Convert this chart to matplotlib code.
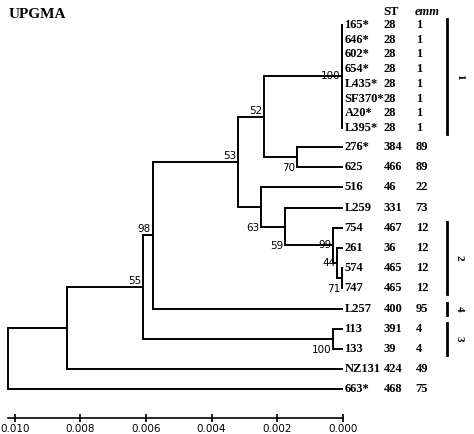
import matplotlib
matplotlib.use("Agg")
import matplotlib.pyplot as plt

# Leaves in drawing order
names = ["165*", "646*", "602*", "654*", "L435*", "SF370*", "A20*", "L395*",
         "276*", "625", "516", "L259", "754", "261", "574", "747",
         "L257", "113", "133", "NZ131", "663*"]
st = ["28"] * 8 + ["384", "466", "46", "331", "467", "36", "465", "465",
                   "400", "391", "39", "424", "468"]
emm = ["1"] * 8 + ["89", "89", "22", "73", "12", "12", "12", "12",
                   "95", "4", "4", "49", "75"]

# Internal nodes: (height, children, bootstrap, label placement)
c1 = (0.00003, list(range(8)), "100", "mid")
n70 = (0.0014, [8, 9], "70", "below")
n52 = (0.0024, [c1, n70], "52", "above")
n71 = (0.00003, [14, 15], "71", "below")
n44 = (0.00018, [13, n71], "44", "mid")
n99 = (0.0003, [12, n44], "99", "mid")
n59 = (0.00176, [11, n99], "59", "below")
n63 = (0.0025, [10, n59], "63", "below")
n53 = (0.0032, [n52, n63], "53", "above")
n98 = (0.0058, [n53, 16], "98", "above")
n3 = (0.0003, [17, 18], "100", "below")
n55 = (0.0061, [n98, n3], "55", "above")
nnz = (0.0084, [n55, 19], "", "")
root = (0.0102, [nnz, 20], "", "")

groups = [("1", 0, 7), ("2", 12, 15), ("4", 16, 16), ("3", 17, 18)]


def leaf_y(i):
    return 25 + 14.7 * i if i < 8 else 147 + 20.2 * (i - 8)


fig = plt.figure(figsize=(4.74, 4.34), dpi=100)
ax = fig.add_axes([0, 0, 1, 1])
ax.set_xlim(0.01045, -0.0040)
ax.set_ylim(434, 0)
lw = 1.4


def draw(node):
    if isinstance(node, int):
        return 0.0, leaf_y(node)
    h, kids, bs, pos = node
    ys = []
    for k in kids:
        kh, ky = draw(k)
        ax.plot([h, kh], [ky, ky], color="black", lw=lw, solid_capstyle="butt")
        ys.append(ky)
    ax.plot([h, h], [min(ys), max(ys)], color="black", lw=lw)
    mid = (min(ys) + max(ys)) / 2
    if bs:
        if pos == "above":
            ax.text(h + 0.00005, mid - 1, bs, ha="right", va="bottom", fontsize=7.5)
        elif pos == "below":
            ax.text(h + 0.00005, max(ys) + 1, bs, ha="right", va="center", fontsize=7.5)
        else:
            ax.text(h + 0.00005, mid, bs, ha="right", va="center", fontsize=7.5)
    return h, mid


draw(root)

serif = "Liberation Serif"
fs = 9
for i, (n, s, e) in enumerate(zip(names, st, emm)):
    y = leaf_y(i)
    ax.text(-0.00005, y, n, ha="left", va="center", fontsize=fs,
            fontweight="bold", family=serif)
    ax.text(-0.00125, y, s, ha="left", va="center", fontsize=fs,
            fontweight="bold", family=serif)
    ax.text(-0.00222, y, e, ha="left", va="center", fontsize=fs,
            fontweight="bold", family=serif)
ax.text(-0.00125, 12, "ST", ha="left", va="center", fontsize=fs,
        fontweight="bold", family=serif)
ax.text(-0.00218, 12, "emm", ha="left", va="center", fontsize=fs,
        fontweight="bold", fontstyle="italic", family=serif)
ax.text(0.0102, 14, "UPGMA", ha="left", va="center", fontsize=11,
        fontweight="bold", family=serif)

for lab, a, b in groups:
    y0, y1 = leaf_y(a) - 6, leaf_y(b) + 6
    ax.plot([-0.00318, -0.00318], [y0, y1], color="black", lw=2)
    ax.text(-0.00355, (y0 + y1) / 2, lab, rotation=-90, ha="center",
            va="center", fontsize=8, fontweight="bold", family=serif)

# scale axis
for s in ["top", "right", "left"]:
    ax.spines[s].set_visible(False)
ax.spines["bottom"].set_position(("data", 418))
ax.spines["bottom"].set_bounds(0.0102, 0.0)
ax.spines["bottom"].set_linewidth(1.2)
ax.set_yticks([])
ticks = [0.010, 0.008, 0.006, 0.004, 0.002, 0.000]
ax.set_xticks(ticks)
ax.set_xticklabels([f"{t:.3f}" for t in ticks], fontsize=7.5)
ax.tick_params(axis="x", direction="inout", length=6, width=1.2, pad=1)

fig.savefig("out.png", dpi=100)
